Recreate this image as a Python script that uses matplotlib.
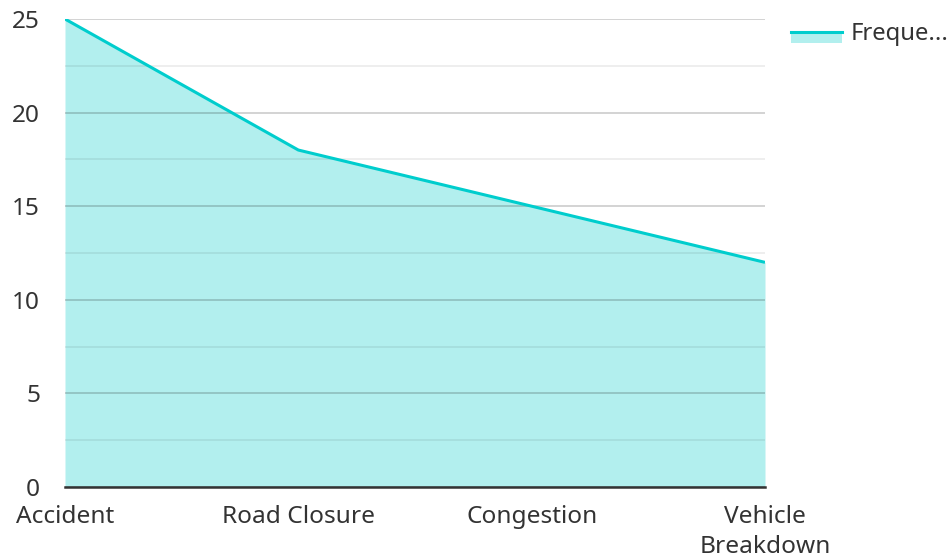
import matplotlib
matplotlib.use("Agg")
import matplotlib.pyplot as plt
from matplotlib.patches import Rectangle
from matplotlib.lines import Line2D
import numpy as np

plt.rcParams['font.family'] = ['Noto Sans', 'DejaVu Sans']

categories = ["Accident", "Road Closure", "Congestion", "Vehicle\nBreakdown"]
frequency = [25, 18, 15, 12]
y_ticks = [0, 5, 10, 15, 20, 25]
series_label = "Freque..."

line_color = "#00cdcd"
fill_color = "#b2efee"
text_color = "#333333"
tick_size = 17.6
legend_size = 17.2

fig = plt.figure(figsize=(9.53, 5.59), dpi=100)
ax = fig.add_axes([65 / 953, 1 - 487 / 559, 700 / 953, 468 / 559])

x = np.arange(len(categories))
ax.fill_between(x, frequency, 0, color=fill_color, linewidth=0, zorder=1)
ax.plot(x, frequency, color=line_color, linewidth=2.2, zorder=4,
        solid_capstyle='butt')

ax.set_xlim(0, len(categories) - 1)
ax.set_ylim(0, 25)
ax.set_yticks(y_ticks)
ax.set_yticks(np.arange(2.5, 25, 5), minor=True)
ax.set_xticks(x)
ax.set_xticklabels(categories)

ax.grid(True, which='major', axis='y', color='#000000', alpha=0.2, linewidth=1.2, zorder=2)
ax.grid(True, which='minor', axis='y', color='#000000', alpha=0.08, linewidth=1.2, zorder=2)
ax.set_axisbelow(False)

for side in ['left', 'right', 'top']:
    ax.spines[side].set_visible(False)
ax.spines['bottom'].set_color(text_color)
ax.spines['bottom'].set_linewidth(1.8)
ax.spines['bottom'].set_zorder(5)

ax.tick_params(axis='both', which='both', length=0, labelsize=tick_size, colors=text_color)
ax.tick_params(axis='y', pad=18)
ax.tick_params(axis='x', pad=13)
for lbl in ax.get_xticklabels():
    lbl.set_linespacing(1.33)

# legend drawn in figure pixel coordinates
W, H = 953, 559
fig.patches.append(Rectangle((791 / W, 1 - 43 / H), 51 / W, 12 / H,
                             transform=fig.transFigure, facecolor=fill_color,
                             edgecolor='none'))
fig.lines.append(Line2D([791 / W, 842 / W], [1 - 32 / H, 1 - 32 / H],
                        transform=fig.transFigure, color=line_color, linewidth=2.2))
fig.text(851 / W, 1 - 33.5 / H, series_label, ha='left', va='center',
         fontsize=legend_size, color=text_color)

fig.savefig("out.png", dpi=100)
